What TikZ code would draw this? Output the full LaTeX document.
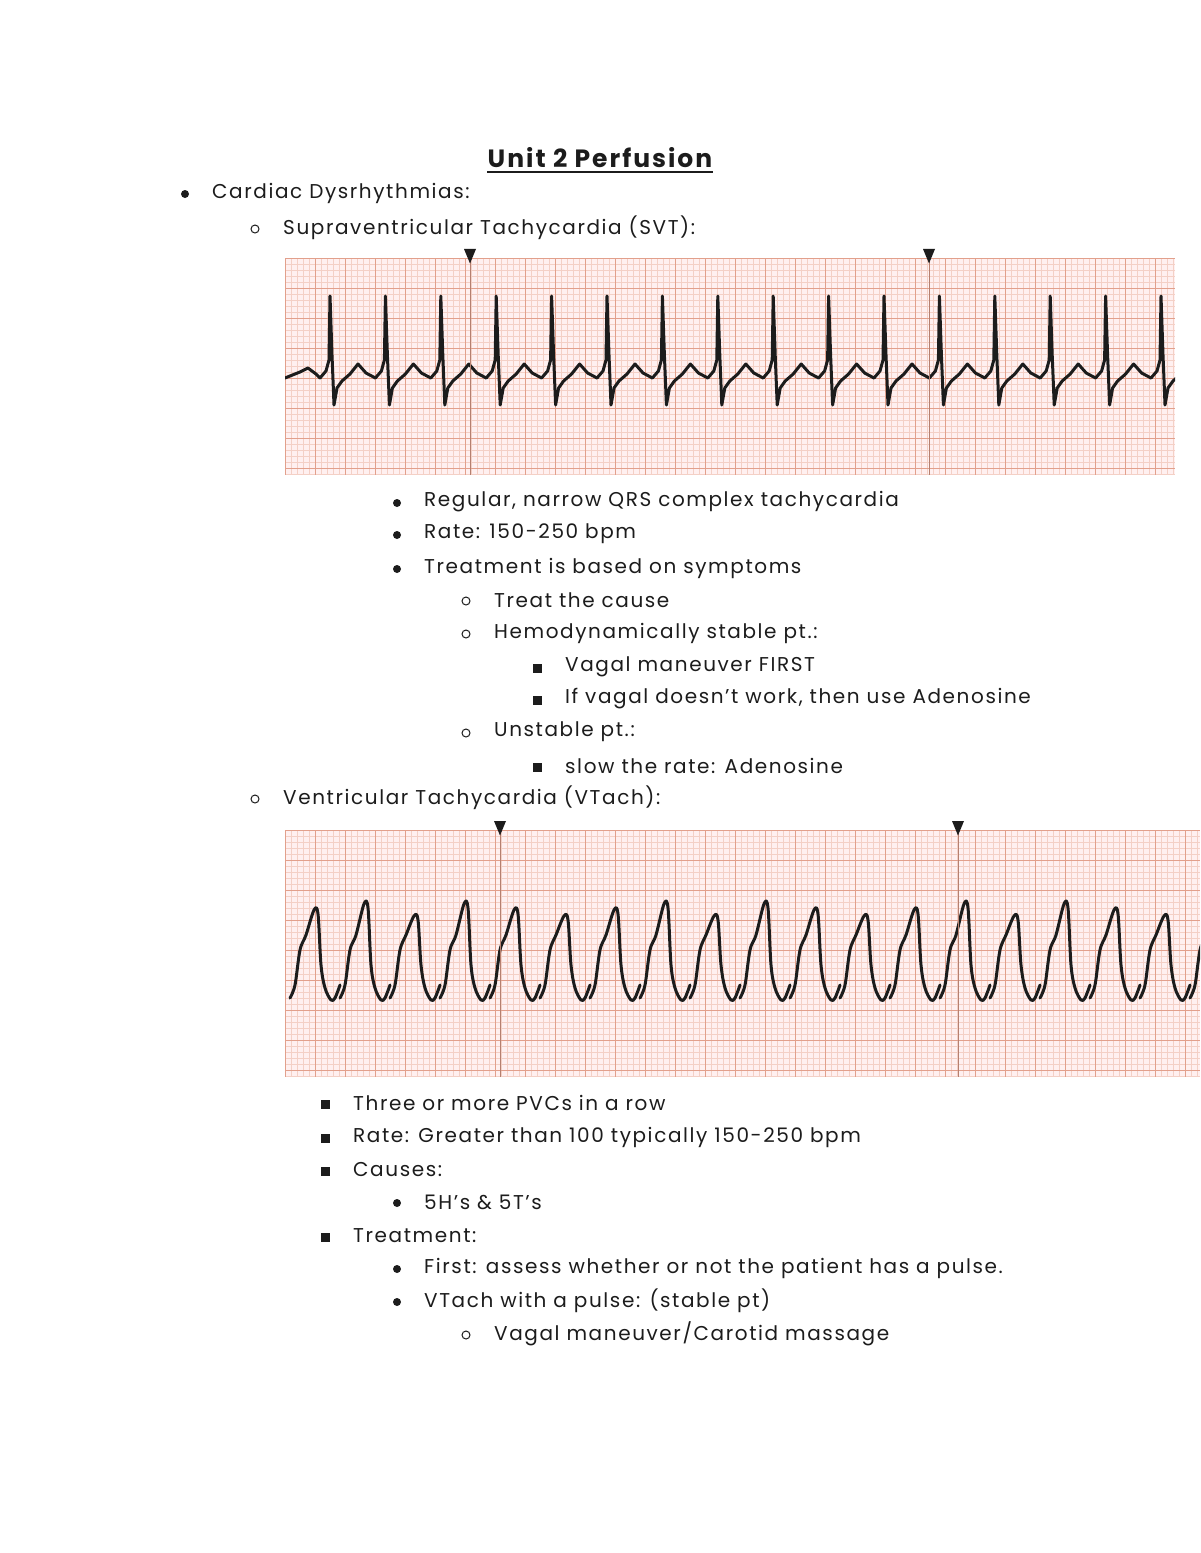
\documentclass[tikz,border=0pt]{standalone}
\usepackage{fontspec}
\setmainfont{Poppins}[LetterSpace=8]
\definecolor{minor}{RGB}{244,208,198}
\definecolor{major}{RGB}{226,160,140}
\definecolor{ink}{RGB}{28,28,28}
\tikzset{
  txt/.style={anchor=west,inner sep=0pt,font=\fontsize{20}{22}\selectfont,text=ink},
  dotb/.style={fill=ink,circle,inner sep=0pt,minimum size=8pt},
  ringb/.style={draw=ink,line width=1pt,circle,inner sep=0pt,minimum size=8pt},
  sqb/.style={fill=ink,inner sep=0pt,minimum size=9pt},
  trace/.style={line width=3pt,ink,line join=round,line cap=round},
  mark line/.style={draw=major!80!black,line width=0.8pt},
  tri/.style={fill=ink,isosceles triangle,shape border rotate=-90,inner sep=0pt,minimum width=12pt,minimum height=9pt}
}
\usetikzlibrary{shapes.geometric}
\begin{document}
\begin{tikzpicture}[x=1pt,y=-1pt]
\useasboundingbox[fill=white] (0,0) rectangle (1200,1553);
% title
\node[inner sep=0pt,font=\fontsize{25}{28}\selectfont\bfseries,text=ink] (title) at (600,158) {Unit 2 Perfusion};
\draw[ink,line width=1.2pt] (487,172) -- (713,172);
% SVT strip
\begin{scope}
\clip (285,258) rectangle (1175,475);
\fill[white!94!red] (285,258) rectangle (1175,475);
\foreach \x in {285,291,...,1176} \draw[minor,line width=0.6pt] (\x,258) -- (\x,475);
\foreach \y in {258,264,...,476} \draw[minor,line width=0.6pt] (285,\y) -- (1175,\y);
\foreach \x in {285,315,...,1176} \draw[major,line width=0.8pt] (\x,258) -- (\x,475);
\foreach \y in {258,288,...,476} \draw[major,line width=0.8pt] (285,\y) -- (1175,\y);
\draw[trace] (285,378) -- (300,372) -- (308,368) -- (316,374) -- (320,378);
\foreach \p in {330,385.4,...,1165}{
  \draw[trace] (\p-10,378) -- (\p-4,371) -- (\p-1,360) -- (\p,296) -- (\p+2,355) -- (\p+4,405) -- (\p+7,388) -- (\p+12,381) -- (\p+20,374) -- (\p+28,364) -- (\p+36,373) -- (\p+45.4,378);
}
\end{scope}
\draw[mark line] (470,258) -- (470,475);
\draw[mark line] (929,258) -- (929,475);
\node[tri] (m1) at (470,253) {};
\node[tri] (m2) at (929,253) {};
% VT strip
\begin{scope}
\clip (285,830) rectangle (1200,1077);
\fill[white!94!red] (285,830) rectangle (1200,1077);
\foreach \x in {285,291,...,1201} \draw[minor,line width=0.6pt] (\x,830) -- (\x,1077);
\foreach \y in {830,836,...,1078} \draw[minor,line width=0.6pt] (285,\y) -- (1200,\y);
\foreach \x in {285,315,...,1201} \draw[major,line width=0.8pt] (\x,830) -- (\x,1077);
\foreach \y in {830,860,...,1078} \draw[major,line width=0.8pt] (285,\y) -- (1200,\y);
\foreach \p [count=\i] in {290,340,...,1200}{
  \pgfmathsetmacro{\h}{mod(\i,3)==0 ? 8 : (mod(\i,2)==0 ? -4 : 2)}
  \draw[trace] plot[smooth,tension=0.55] coordinates {(\p,998) (\p+5,985) (\p+10,950) (\p+16,935) (\p+24,\h+908) (\p+28,\h+912) (\p+31,965) (\p+35,988) (\p+41,1000) (\p+45,998) (\p+50,985)};
}
\end{scope}
\draw[mark line] (500,830) -- (500,1077);
\draw[mark line] (958,830) -- (958,1077);
\node[tri] (m3) at (500,825) {};
\node[tri] (m4) at (958,825) {};
% text lines
\foreach \bx/\tx/\y/\st/\t [count=\n] in {
 185/212/193/dotb/{Cardiac Dysrhythmias:},
 255/283/228/ringb/{Supraventricular Tachycardia (SVT):},
 397/424/502/dotb/{Regular, narrow QRS complex tachycardia},
 397/424/534/dotb/{Rate: 150-250 bpm},
 397/424/568/dotb/{Treatment is based on symptoms},
 466/494/600/ringb/{Treat the cause},
 466/494/633/ringb/{Hemodynamically stable pt.:},
 537/565/667/sqb/{Vagal maneuver FIRST},
 537/565/699/sqb/{If vagal doesn’t work, then use Adenosine},
 466/494/732/ringb/{Unstable pt.:},
 537/565/766/sqb/{slow the rate: Adenosine},
 255/283/798/ringb/{Ventricular Tachycardia (VTach):},
 325/353/1103/sqb/{Three or more PVCs in a row},
 325/353/1137/sqb/{Rate: Greater than 100 typically 150-250 bpm},
 325/353/1170/sqb/{Causes:},
 397/424/1202/dotb/{5H’s \& 5T’s},
 325/353/1236/sqb/{Treatment:},
 397/424/1268/dotb/{First: assess whether or not the patient has a pulse.},
 397/424/1301/dotb/{VTach with a pulse: (stable pt)},
 466/494/1334/ringb/{Vagal maneuver/Carotid massage}}{
  \node[\st] (b\n) at (\bx,\y+1) {};
  \node[txt] (t\n) at (\tx,\y) {\t};
}
\end{tikzpicture}
\end{document}
